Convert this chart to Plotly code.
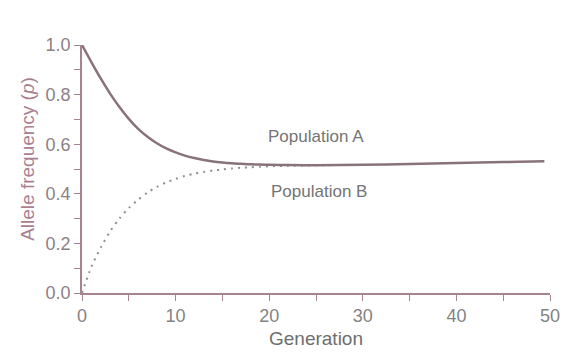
import plotly.graph_objects as go

gen_a = [0, 1, 2, 3, 4, 5, 6, 7, 8, 9, 10, 11, 12, 13, 14, 15, 16, 17, 18, 19, 20, 22, 25, 30, 35, 40, 45, 49.4]
pop_a = [1.000, 0.931, 0.865, 0.804, 0.750, 0.702, 0.662, 0.630, 0.604, 0.583, 0.567, 0.554, 0.544,
         0.536, 0.530, 0.526, 0.523, 0.521, 0.519, 0.518, 0.517, 0.516, 0.515, 0.517, 0.520, 0.524,
         0.528, 0.531]

gen_b = [0, 1, 2, 3, 4, 5, 6, 7, 8, 9, 10, 11, 12, 13, 14, 15, 16, 17, 18, 19, 20, 22, 25, 28]
pop_b = [0.000, 0.105, 0.183, 0.248, 0.300, 0.343, 0.376, 0.405, 0.428, 0.446, 0.460, 0.472, 0.481,
         0.488, 0.494, 0.498, 0.502, 0.505, 0.507, 0.509, 0.511, 0.513, 0.515, 0.516]

labels = ["Population A", "Population B"]
label_x = [25, 25.3]
label_y = [0.633, 0.41]

axis_col = "#a5838f"
font = "Liberation Sans, Arial, sans-serif"

fig = go.Figure()
fig.add_trace(go.Scatter(x=gen_b, y=pop_b, mode="lines",
                         line=dict(color="#8f8f8f", width=2, dash="2px,5px", shape="spline", smoothing=0.8),
                         showlegend=False, hoverinfo="skip"))
fig.add_trace(go.Scatter(x=gen_a, y=pop_a, mode="lines",
                         line=dict(color="#8a727d", width=2.5, shape="spline", smoothing=0.8),
                         showlegend=False, hoverinfo="skip"))

for t, xx, yy in zip(labels, label_x, label_y):
    fig.add_annotation(x=xx, y=yy, text=t, showarrow=False,
                       font=dict(family=font, size=17, color="#747474"))

fig.add_annotation(xref="paper", yref="paper", x=-0.118, y=0.54, text="Allele frequency (<i>p</i>)",
                   textangle=-90, showarrow=False, xanchor="center", yanchor="middle",
                   font=dict(family=font, size=19, color="#a8808f"))

fig.update_layout(
    width=575, height=355,
    margin=dict(l=74, r=33, t=37, b=70),
    paper_bgcolor="white", plot_bgcolor="white",
    xaxis=dict(range=[0, 50], dtick=10, tick0=0, showgrid=False, zeroline=False,
               showline=True, linecolor=axis_col, linewidth=1.5,
               ticks="outside", ticklen=6, tickwidth=1.2, tickcolor=axis_col,
               minor=dict(dtick=5, ticks="outside", ticklen=6, tickwidth=1.2, tickcolor=axis_col),
               tickfont=dict(family=font, size=18, color="#838383"),
               title=dict(text="Generation", standoff=6,
                          font=dict(family=font, size=19, color="#6e6e6e"))),
    yaxis=dict(range=[0, 1], dtick=0.2, tick0=0, showgrid=False, zeroline=False,
               showline=True, linecolor=axis_col, linewidth=1.5,
               ticks="outside", ticklen=6, tickwidth=1.2, tickcolor=axis_col,
               minor=dict(dtick=0.1, ticks="outside", ticklen=6, tickwidth=1.2, tickcolor=axis_col),
               tickformat=".1f",
               tickfont=dict(family=font, size=18, color="#8d7f86")),
)

fig.write_html("out.html")
